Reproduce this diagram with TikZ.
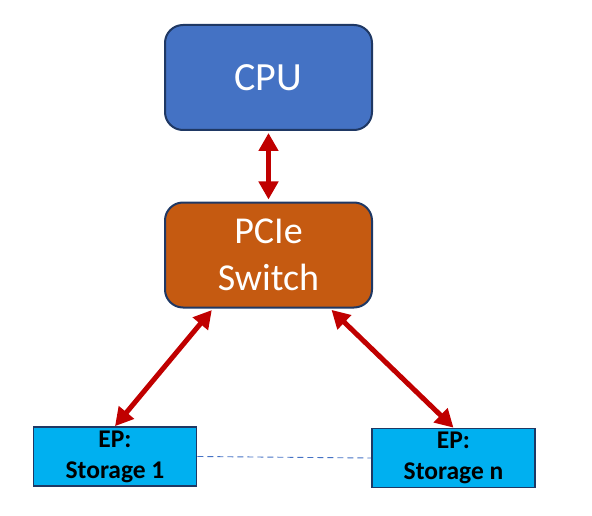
\documentclass[tikz,border=0pt]{standalone}
\usepackage{fontspec}
\setmainfont{Carlito}
\usetikzlibrary{arrows.meta}
\definecolor{cpublue}{HTML}{4472C4}
\definecolor{swbrown}{HTML}{C55A11}
\definecolor{epcyan}{HTML}{00B0F0}
\definecolor{edge}{HTML}{1F3864}
\definecolor{linkred}{HTML}{C00000}
\begin{document}
\begin{tikzpicture}[x=1pt,y=-1pt,
    bigbox/.style={draw=edge,line width=2pt,rounded corners=18pt,
      minimum width=207pt,minimum height=105pt,text=white,align=center},
    epbox/.style={draw=edge,line width=1.6pt,fill=epcyan,
      minimum width=163pt,minimum height=59pt,align=center,
      font=\fontsize{25.5}{31}\selectfont\bfseries},
    link/.style={linkred,line width=5pt,
      {Triangle[length=18pt,width=19pt]}-{Triangle[length=18pt,width=19pt]}}]
  \useasboundingbox(0,0)rectangle(592,516);
  \node[bigbox,fill=cpublue,font=\fontsize{40}{46}\selectfont](cpu)at(268.5,77.5){CPU};
  \node[bigbox,fill=swbrown,font=\fontsize{38}{47}\selectfont](sw)at(268.5,255){PCIe\\Switch};
  \node[epbox](ep1)at(115,456.5){EP:\\Storage 1};
  \node[epbox](epn)at(453.5,458){EP:\\Storage n};
  \draw[link,shorten <=2pt,shorten >=2pt](cpu.south)--(sw.north);
  \draw[link,shorten <=2pt](sw.224)--(ep1.north);
  \draw[link,shorten <=2pt](sw.319)--(epn.north);
  \draw[cpublue,line width=.9pt,dash pattern=on 6pt off 4pt](ep1.east)--(epn.west);
\end{tikzpicture}
\end{document}
